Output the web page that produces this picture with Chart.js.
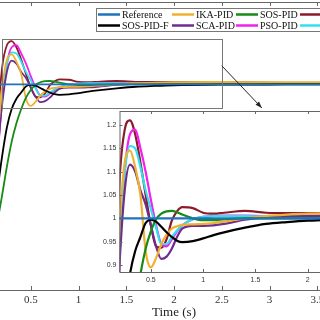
<!DOCTYPE html>
<html>
<head>
<meta charset="utf-8">
<script src="https://cdn.jsdelivr.net/npm/chart.js@4.4.0/dist/chart.umd.min.js"></script>
<style>
  html, body { margin: 0; padding: 0; background: #fff; overflow: hidden; width: 320px; height: 320px; }
  #main { position: absolute; left: -17px; top: 0; width: 382px; height: 320px; }
  #inset { position: absolute; left: 98px; top: 105px; width: 262px; height: 181px; }
</style>
</head>
<body>
<div id="main"><canvas id="mainChart"></canvas></div>
<div id="inset"><canvas id="insetChart"></canvas></div>
<script>
// time samples (s)
const times = [0, 0.05, 0.1, 0.15, 0.2, 0.25, 0.3, 0.35, 0.4, 0.45, 0.5, 0.55, 0.6, 0.65, 0.7, 0.75, 0.8, 0.9, 1.0, 1.1, 1.2, 1.4, 1.6, 1.8, 2.0, 2.5, 3.0, 3.5, 4.0];

const refTimes = [0, 4];
const refValues = [1, 1];

const ikaPid   = [0, 0.1, 0.38, 0.72, 0.98, 1.12, 1.145, 1.11, 1.05, 0.93, 0.895, 0.915, 0.945, 0.965, 0.978, 0.983, 0.986, 0.987, 0.988, 0.99, 0.993, 1.0, 1.005, 1.008, 1.01, 1.011, 1.01, 1.01, 1.01];
const sosPid   = [0, 0.08, 0.2, 0.33, 0.46, 0.6, 0.72, 0.81, 0.88, 0.935, 0.972, 0.998, 1.01, 1.015, 1.016, 1.013, 1.008, 1.0, 0.996, 0.996, 0.998, 1.0, 1.0, 1.0, 1.0, 1.0, 1.0, 1.0, 1.0];
const gaPid    = [0, 0.12, 0.42, 0.8, 1.08, 1.19, 1.21, 1.18, 1.12, 1.05, 0.985, 0.94, 0.937, 0.955, 0.995, 1.015, 1.024, 1.022, 1.012, 1.01, 1.012, 1.016, 1.012, 1.011, 1.011, 1.01, 1.008, 1.006, 1.005];
const sosPidF  = [0, 0.12, 0.3, 0.48, 0.65, 0.79, 0.88, 0.93, 0.96, 0.99, 0.997, 0.993, 0.982, 0.97, 0.96, 0.952, 0.949, 0.951, 0.957, 0.964, 0.97, 0.98, 0.988, 0.992, 0.995, 0.998, 0.999, 1.0, 1.0];
const scaPid   = [0, 0.1, 0.35, 0.65, 0.9, 1.06, 1.115, 1.1, 1.06, 1.03, 0.985, 0.94, 0.913, 0.918, 0.935, 0.96, 0.978, 0.984, 0.984, 0.985, 0.988, 0.997, 1.002, 1.004, 1.005, 1.005, 1.005, 1.005, 1.005];
const psoPid   = [0, 0.08, 0.3, 0.62, 0.92, 1.1, 1.18, 1.19, 1.15, 1.1, 1.04, 0.985, 0.945, 0.94, 0.955, 0.972, 0.985, 0.998, 1.003, 1.005, 1.006, 1.006, 1.005, 1.005, 1.004, 1.004, 1.004, 1.004, 1.004];
const gwoPid   = [0, 0.1, 0.35, 0.7, 0.96, 1.1, 1.155, 1.15, 1.11, 1.06, 1.02, 0.98, 0.945, 0.945, 0.96, 0.974, 0.985, 0.998, 1.003, 1.005, 1.005, 1.005, 1.004, 1.004, 1.004, 1.004, 1.004, 1.004, 1.004];

const mainXTicks = [0, 0.5, 1, 1.5, 2, 2.5, 3, 3.5, 4];
const insetXTicks = [0.5, 1, 1.5, 2];
const insetYTicks = [0.9, 0.95, 1, 1.05, 1.1, 1.15, 1.2];

// zoom box and arrow, in main-axis units
const zoomBoxX = [0.2, 2.5];
const zoomBoxY = [0.885, 1.22];
const arrowX = [2.5, 2.92];
const arrowY = [1.09, 0.885];

function pts(xs, ys) {
  return xs.map((t, i) => ({ x: t, y: ys[i] }));
}

function makeDatasets(width) {
  const list = [
    { label: "Reference", data: pts(refTimes, refValues), color: "#1f72bd" },
    { label: "SOS-PID-F", data: pts(times, sosPidF), color: "#000000" },
    { label: "SOS-PID", data: pts(times, sosPid), color: "#178a17" },
    { label: "IKA-PID", data: pts(times, ikaPid), color: "#f0b030" },
    { label: "SCA-PID", data: pts(times, scaPid), color: "#6e2c8c" },
    { label: "GWO-PID", data: pts(times, gwoPid), color: "#30e0ee" },
    { label: "PSO-PID", data: pts(times, psoPid), color: "#f020f0" },
    { label: "GA-PID", data: pts(times, gaPid), color: "#8c1a2b" },
  ];
  return list.map(d => ({
    label: d.label,
    data: d.data,
    borderColor: d.color,
    backgroundColor: d.color,
    borderWidth: width,
    pointRadius: 0,
    fill: false,
    cubicInterpolationMode: "monotone",
  }));
}

const legendRows = [
  ["Reference", "IKA-PID", "SOS-PID", "GA-PID"],
  ["SOS-PID-F", "SCA-PID", "PSO-PID", "GWO-PID"],
];

// Box, inward ticks, zoom rectangle, arrow and legend for the main axes
const mainDecor = {
  id: "mainDecor",
  afterDatasetsDraw(chart) {
    const ctx = chart.ctx;
    const a = chart.chartArea;
    const xs = chart.scales.x;
    const ys = chart.scales.y;
    ctx.save();
    ctx.strokeStyle = "#666";
    ctx.lineWidth = 1;
    ctx.strokeRect(a.left + 0.5, a.top + 0.5, a.right - a.left - 1, a.bottom - a.top);
    mainXTicks.forEach(v => {
      const px = Math.round(xs.getPixelForValue(v)) + 0.5;
      ctx.beginPath();
      ctx.moveTo(px, a.bottom);
      ctx.lineTo(px, a.bottom - 4);
      ctx.moveTo(px, a.top);
      ctx.lineTo(px, a.top + 4);
      ctx.stroke();
    });

    // zoom rectangle
    const x0 = xs.getPixelForValue(zoomBoxX[0]);
    const x1 = xs.getPixelForValue(zoomBoxX[1]);
    const y0 = ys.getPixelForValue(zoomBoxY[1]);
    const y1 = ys.getPixelForValue(zoomBoxY[0]);
    ctx.strokeStyle = "#777";
    ctx.strokeRect(Math.round(x0) + 0.5, Math.round(y0) + 0.5, Math.round(x1 - x0), Math.round(y1 - y0));

    // arrow
    const ax0 = xs.getPixelForValue(arrowX[0]);
    const ay0 = ys.getPixelForValue(arrowY[0]);
    const ax1 = xs.getPixelForValue(arrowX[1]);
    const ay1 = ys.getPixelForValue(arrowY[1]);
    ctx.strokeStyle = "#222";
    ctx.beginPath();
    ctx.moveTo(ax0, ay0);
    ctx.lineTo(ax1, ay1);
    ctx.stroke();
    const ang = Math.atan2(ay1 - ay0, ax1 - ax0);
    ctx.fillStyle = "#222";
    ctx.beginPath();
    ctx.moveTo(ax1, ay1);
    ctx.lineTo(ax1 - 7 * Math.cos(ang - 0.35), ay1 - 7 * Math.sin(ang - 0.35));
    ctx.lineTo(ax1 - 7 * Math.cos(ang + 0.35), ay1 - 7 * Math.sin(ang + 0.35));
    ctx.closePath();
    ctx.fill();

    // legend
    const colors = {};
    chart.data.datasets.forEach(d => { colors[d.label] = d.borderColor; });
    const lx = 113, ly = 8;
    ctx.fillStyle = "#fff";
    ctx.fillRect(lx, ly, 300, 23);
    ctx.strokeStyle = "#777";
    ctx.strokeRect(lx + 0.5, ly + 0.5, 300, 23);
    const colX = [115, 189, 253, 317];
    const rowY = [14.5, 25.5];
    ctx.font = "10px 'Liberation Serif'";
    ctx.textBaseline = "middle";
    legendRows.forEach((row, r) => {
      row.forEach((name, c) => {
        ctx.strokeStyle = colors[name];
        ctx.lineWidth = 2.5;
        ctx.beginPath();
        ctx.moveTo(colX[c], rowY[r]);
        ctx.lineTo(colX[c] + 22, rowY[r]);
        ctx.stroke();
        ctx.fillStyle = "#111";
        ctx.fillText(name, colX[c] + 24, rowY[r] + 0.5);
      });
    });
    ctx.restore();
  },
};

// White plot background, box and inward ticks for the inset
const insetDecor = {
  id: "insetDecor",
  beforeDatasetsDraw(chart) {
    const ctx = chart.ctx;
    const a = chart.chartArea;
    ctx.save();
    ctx.fillStyle = "#fff";
    ctx.fillRect(a.left, a.top, a.right - a.left, a.bottom - a.top);
    ctx.restore();
  },
  afterDatasetsDraw(chart) {
    const ctx = chart.ctx;
    const a = chart.chartArea;
    const xs = chart.scales.x;
    const ys = chart.scales.y;
    ctx.save();
    ctx.strokeStyle = "#666";
    ctx.lineWidth = 1;
    ctx.strokeRect(a.left + 0.5, a.top + 0.5, a.right - a.left, a.bottom - a.top);
    ctx.beginPath();
    insetXTicks.forEach(v => {
      const px = Math.round(xs.getPixelForValue(v)) + 0.5;
      ctx.moveTo(px, a.bottom);
      ctx.lineTo(px, a.bottom - 3);
      ctx.moveTo(px, a.top);
      ctx.lineTo(px, a.top + 3);
    });
    insetYTicks.forEach(v => {
      const py = Math.round(ys.getPixelForValue(v)) + 0.5;
      ctx.moveTo(a.left, py);
      ctx.lineTo(a.left + 3, py);
    });
    ctx.stroke();
    ctx.restore();
  },
};

new Chart(document.getElementById("mainChart"), {
  type: "line",
  data: { datasets: makeDatasets(1.8) },
  options: {
    responsive: true,
    maintainAspectRatio: false,
    animation: false,
    layout: { padding: { top: 2, left: 0, right: 0, bottom: 0 } },
    plugins: { legend: { display: false }, tooltip: { enabled: false } },
    scales: {
      x: {
        type: "linear",
        min: 0,
        max: 4,
        afterBuildTicks: s => { s.ticks = mainXTicks.map(v => ({ value: v })); },
        afterFit: s => { s.height = 30; s.paddingLeft = 0; s.paddingRight = 0; },
        grid: { display: false, drawTicks: false },
        border: { display: false },
        ticks: {
          font: { family: "Liberation Serif", size: 11 },
          color: "#333",
          padding: 4,
          maxRotation: 0,
          autoSkip: false,
          callback: v => String(v),
        },
        title: {
          display: true,
          text: "Time (s)",
          font: { family: "Liberation Serif", size: 13 },
          color: "#222",
          padding: { top: 0, bottom: 0 },
        },
      },
      y: { display: false, min: 0, max: 1.4 },
    },
  },
  plugins: [mainDecor],
});

new Chart(document.getElementById("insetChart"), {
  type: "line",
  data: { datasets: makeDatasets(2.2) },
  options: {
    responsive: true,
    maintainAspectRatio: false,
    animation: false,
    layout: { padding: { top: 6, left: 0, right: 0, bottom: 0 } },
    plugins: { legend: { display: false }, tooltip: { enabled: false } },
    scales: {
      x: {
        type: "linear",
        min: 0.2,
        max: 2.5,
        afterBuildTicks: s => { s.ticks = insetXTicks.map(v => ({ value: v })); },
        afterFit: s => { s.height = 14; s.paddingLeft = 0; s.paddingRight = 0; },
        grid: { display: false, drawTicks: false },
        border: { display: false },
        ticks: {
          font: { family: "Liberation Sans", size: 7 },
          color: "#333",
          padding: 4,
          maxRotation: 0,
          autoSkip: false,
          callback: v => String(v),
        },
      },
      y: {
        min: 0.885,
        max: 1.23,
        afterBuildTicks: s => { s.ticks = insetYTicks.map(v => ({ value: v })); },
        afterFit: s => { s.width = 21.5; s.paddingTop = 0; s.paddingBottom = 0; },
        grid: { display: false, drawTicks: false },
        border: { display: false },
        ticks: {
          font: { family: "Liberation Sans", size: 7 },
          color: "#333",
          padding: 3,
          autoSkip: false,
          callback: v => String(v),
        },
      },
    },
  },
  plugins: [insetDecor],
});
</script>
</body>
</html>
